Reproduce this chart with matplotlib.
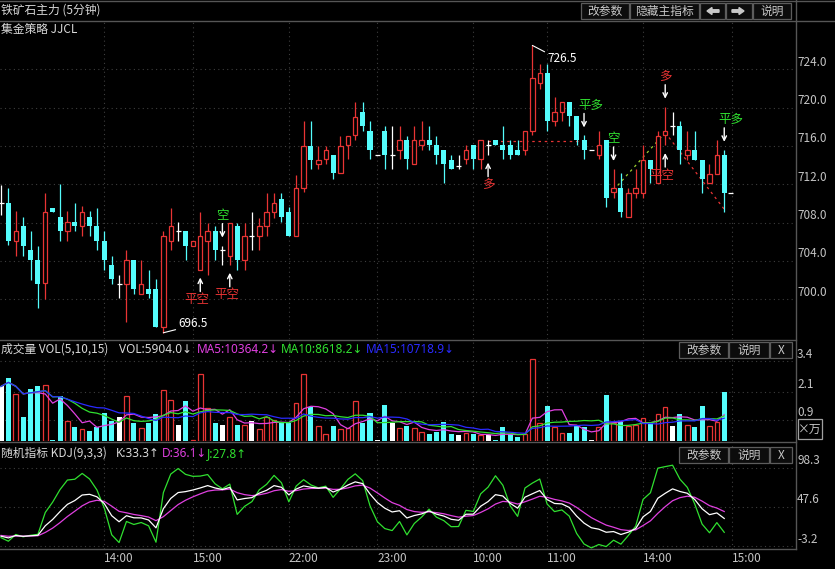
import numpy as np
import pandas as pd
import matplotlib
matplotlib.use("Agg")
import matplotlib.pyplot as plt
from matplotlib.patches import Rectangle, FancyArrow
from matplotlib.transforms import offset_copy

plt.rcParams['font.family'] = ['Noto Sans CJK SC', 'DejaVu Sans']
LATIN = ['Noto Sans', 'DejaVu Sans']

# ---- 5 minute bars ----
opens = [710.0, 710.1, 706.1, 707.6, 705.1, 704.1, 701.7, 709.5, 708.6, 707.1,
         708.1, 707.6, 708.6, 707.6, 706.1, 703.6, 701.6, 701.6, 704.1, 700.6,
         701.1, 701.1, 697.1, 706.1, 707.1, 707.1, 705.6, 703.1, 706.1, 707.1,
         705.1, 704.5, 707.6, 704.1, 706.6, 706.6, 707.6, 709.1, 710.5, 709.1,
         706.6, 711.6, 716.0, 714.1, 714.6, 715.1, 713.2, 716.1, 717.1, 719.6,
         717.6, 715.1, 717.6, 715.1, 715.6, 716.6, 714.1, 716.1, 716.6, 716.1,
         715.6, 714.5, 713.9, 714.6, 716.1, 714.6, 716.1, 716.6, 716.1, 716.1,
         715.6, 715.6, 717.6, 722.6, 723.6, 718.6, 719.6, 720.6, 719.1, 716.6,
         715.6, 715.1, 716.6, 711.2, 711.6, 708.6, 711.1, 711.1, 714.5, 712.1,
         717.1, 718.1, 718.1, 715.1, 715.6, 714.5, 712.1, 713.1, 715.1]
highs = [711.9, 711.6, 709.2, 708.6, 707.1, 705.6, 711.1, 709.5, 712.0, 709.2,
         710.1, 709.7, 709.2, 709.5, 707.1, 704.5, 702.5, 705.1, 704.1, 704.1,
         703.1, 702.1, 707.1, 709.5, 708.1, 707.1, 706.1, 709.1, 708.0, 707.6,
         705.6, 708.0, 708.0, 708.0, 709.1, 708.5, 711.1, 711.1, 711.1, 709.6,
         713.0, 718.6, 718.6, 716.0, 716.0, 715.1, 717.0, 717.0, 720.6, 720.6,
         718.6, 715.1, 718.1, 718.1, 718.1, 717.0, 718.1, 718.6, 718.1, 717.0,
         715.6, 715.1, 715.1, 716.1, 716.1, 716.6, 716.6, 716.6, 718.1, 716.6,
         716.6, 717.6, 726.5, 724.6, 724.6, 721.1, 720.6, 720.6, 719.1, 717.1,
         715.6, 717.6, 716.6, 713.6, 713.2, 711.6, 713.6, 716.1, 714.5, 717.6,
         720.1, 719.6, 718.6, 717.6, 717.6, 714.5, 714.1, 716.6, 715.6]
lows = [708.8, 705.7, 704.5, 704.5, 702.0, 699.1, 700.0, 709.1, 706.1, 706.1,
        707.1, 706.6, 706.6, 705.1, 703.1, 701.6, 700.1, 697.6, 700.6, 700.6,
        700.1, 697.1, 696.5, 705.1, 706.1, 704.1, 705.6, 703.1, 702.5, 704.1,
        703.6, 703.6, 703.1, 703.1, 705.1, 705.1, 706.6, 708.5, 708.1, 706.6,
        706.6, 711.2, 713.6, 713.6, 714.1, 712.6, 713.2, 714.6, 716.6, 717.6,
        714.6, 715.1, 713.6, 713.6, 714.6, 713.6, 714.1, 715.6, 715.6, 714.1,
        712.1, 713.6, 713.6, 714.1, 713.6, 713.6, 715.1, 716.1, 714.6, 714.6,
        715.1, 715.1, 717.1, 722.0, 717.6, 718.1, 718.6, 718.1, 716.1, 714.6,
        715.6, 714.6, 709.6, 710.6, 708.6, 708.6, 710.6, 710.6, 712.1, 712.1,
        716.1, 717.1, 714.1, 714.5, 714.5, 711.1, 712.1, 713.1, 709.1]
closes = [710.0, 706.1, 707.1, 705.6, 704.1, 701.6, 709.1, 709.1, 707.1, 708.1,
          707.6, 709.1, 707.6, 706.1, 704.1, 702.1, 701.6, 704.1, 701.1, 701.6,
          700.6, 697.1, 706.6, 707.6, 707.1, 705.6, 706.1, 706.6, 707.1, 705.1,
          705.1, 708.0, 704.1, 706.6, 706.6, 707.6, 709.1, 710.1, 708.6, 706.6,
          711.6, 716.0, 714.5, 714.5, 715.6, 713.2, 716.0, 717.0, 719.0, 718.1,
          715.6, 715.1, 715.1, 715.1, 716.6, 714.6, 716.6, 716.6, 716.1, 715.1,
          714.1, 713.6, 713.9, 715.6, 714.6, 716.6, 716.1, 716.1, 715.6, 715.1,
          715.1, 717.6, 723.1, 723.6, 718.6, 719.6, 720.6, 719.1, 716.6, 715.6,
          715.6, 716.1, 710.6, 711.6, 709.1, 711.1, 711.6, 714.5, 713.6, 717.0,
          717.6, 718.1, 715.6, 715.6, 714.5, 712.6, 713.1, 715.1, 711.1]
# volume in units of 10k (x万)
volumes = [2.32, 2.67, 2.00, 1.04, 2.22, 2.35, 2.39, 0.05, 1.93, 0.83,
           0.58, 0.49, 0.42, 0.58, 1.21, 0.83, 1.04, 1.90, 0.75, 0.56,
           0.75, 1.17, 2.15, 1.74, 0.68, 1.72, 0.05, 2.83, 1.39, 0.75,
           0.69, 1.00, 0.69, 0.69, 0.83, 0.49, 1.04, 0.90, 0.75, 0.75,
           1.62, 2.83, 1.44, 0.65, 0.28, 0.62, 0.49, 0.56, 1.72, 0.75,
           1.21, 0.05, 1.53, 0.75, 0.56, 0.62, 0.56, 0.40, 0.28, 0.38,
           0.79, 0.28, 0.26, 0.33, 0.28, 0.26, 0.26, 0.05, 0.58, 0.28,
           0.19, 0.31, 3.50, 0.75, 1.49, 0.58, 0.33, 0.33, 0.65, 0.58,
           0.05, 0.58, 1.94, 0.75, 0.79, 0.65, 0.69, 0.96, 0.79, 1.17,
           1.44, 0.62, 1.14, 0.69, 0.58, 1.49, 0.65, 0.81, 2.08]

time_ticks = [14, 26, 39, 51, 64, 74, 87, 99]
time_labels = ['14:00', '15:00', '22:00', '23:00', '10:00', '11:00', '14:00', '15:00']
price_ticks = [724, 720, 716, 712, 708, 704, 700]
vol_ticks = [3.4, 2.1, 0.9]
kdj_ticks = [98.3, 47.6, -3.2]
kdj_seed = [9.0, 11.0]          # K, D before the first bar
kdj_prior_range = [709.0, 720.0]  # low / high of the bars before the chart

# strategy signals
signal_idx = [27, 30, 31, 66, 79, 83, 90, 90, 98]
signal_text = ['平空', '空', '平空', '多', '平多', '空', '多', '平空', '平多']
signal_side = ['below', 'above', 'below', 'below', 'above', 'above', 'above', 'below', 'above']

# position lines (start bar, start price, end bar, end price)
trade_x0 = [66, 83, 90]
trade_y0 = [716.5, 711.4, 717.4]
trade_x1 = [78.5, 90, 98]
trade_y1 = [716.5, 717.4, 709.4]
trade_dir = ['long', 'short', 'long']

RED = '#e83434'
CYAN = '#54fcfc'
GRID = '#3e3e3e'
LINE = '#565656'
TXT = '#d8d8d8'
MAGENTA = '#e040e0'
GREEN = '#30e030'
BLUE = '#2a2aff'

W, H = 835, 569
fig = plt.figure(figsize=(W / 100, H / 100), dpi=100, facecolor='black')


def fax(x0, y0, x1, y1):
    a = fig.add_axes([x0 / W, 1 - y1 / H, (x1 - x0) / W, (y1 - y0) / H])
    a.set_facecolor('black')
    a.set_xticks([])
    a.set_yticks([])
    for s in a.spines.values():
        s.set_visible(False)
    a.set_xlim(-1 / 7.38, 794 / 7.38)
    return a


ax_p = fax(0, 21, 795, 339)
ax_v = fax(0, 341, 795, 441)
ax_k = fax(0, 442, 795, 549)
ax_p.set_ylim(695.85, 729.05)
ax_v.set_ylim(0, 4.255)
ax_k.set_ylim(-7.1, 132.1)

o = np.array(opens); h = np.array(highs); l = np.array(lows); c = np.array(closes)
v = np.array(volumes)
n = len(c)
x = np.arange(n)
up = c > o
dn = c < o
flat = c == o
col = np.where(up, RED, np.where(dn, CYAN, 'white'))

gkw = dict(color=GRID, lw=0.8, ls=(0, (1, 3)), zorder=0)
for a in (ax_p, ax_v, ax_k):
    for t in time_ticks:
        a.axvline(t, **gkw)
for p in price_ticks:
    ax_p.axhline(p, **gkw)
for p in vol_ticks:
    ax_v.axhline(p, **gkw)
for p in kdj_ticks:
    ax_k.axhline(p, **gkw)

# ---- candles ----
ax_p.vlines(x, l, h, colors=col, lw=0.9, zorder=2)
ax_p.bar(x[up], (c - o)[up], bottom=o[up], width=0.6, facecolor='black',
         edgecolor=RED, lw=0.9, zorder=3)
ax_p.bar(x[dn], (c - o)[dn], bottom=o[dn], width=0.68, color=CYAN, zorder=3)
ax_p.hlines(o[flat], x[flat] - 0.34, x[flat] + 0.34, colors='white', lw=0.9, zorder=3)
# last price tick
ax_p.hlines(c[-1], n - 0.5, n + 0.2, colors='white', lw=0.9)

# position lines
for x0, y0, x1, y1, d in zip(trade_x0, trade_y0, trade_x1, trade_y1, trade_dir):
    ax_p.plot([x0, x1], [y0, y1], color=RED if d == 'long' else '#9ccf30',
              lw=0.9, ls=(0, (2, 3)), zorder=1)

# signals
xshift = {'平空': -3, '平多': 7}
for i, txt, side in zip(signal_idx, signal_text, signal_side):
    s = 1 if side == 'above' else -1
    base = h[i] if side == 'above' else l[i]
    tr = offset_copy(ax_p.transData, fig=fig, x=0, y=s * 8, units='dots')
    ax_p.annotate('', xy=(i, base), xycoords=tr, xytext=(0, s * 14),
                  textcoords='offset pixels',
                  arrowprops=dict(arrowstyle='->', color='white', lw=1,
                                  shrinkA=0, shrinkB=0, mutation_scale=8))
    tcol = RED if txt in ('多', '平空') else GREEN
    ax_p.annotate(txt, xy=(i, base), xytext=(xshift.get(txt, 0), s * 30),
                  textcoords='offset pixels', ha='center', va='center',
                  color=tcol, fontsize=9)

# extreme values
imax = int(np.argmax(h))
ax_p.annotate(f'{h[imax]:.1f}', xy=(imax, h[imax]), xytext=(15, -13),
              textcoords='offset pixels', ha='left', va='center', color='white',
              fontsize=8.5,
              arrowprops=dict(arrowstyle='-', color='white', lw=0.8,
                              shrinkA=0, shrinkB=0, relpos=(0, 0.9)))
imin = int(np.argmin(l))
ax_p.annotate(f'{l[imin]:.1f}', xy=(imin, l[imin]), xytext=(15, 9),
              textcoords='offset pixels', ha='left', va='center', color='white',
              fontsize=8.5,
              arrowprops=dict(arrowstyle='-', color='white', lw=0.8,
                              shrinkA=0, shrinkB=0, relpos=(0, 0.1)))

# ---- volume ----
ax_v.bar(x[up], v[up], width=0.62, facecolor='black', edgecolor=RED, lw=0.9, zorder=2)
ax_v.bar(x[dn], v[dn], width=0.68, color=CYAN, zorder=2)
ax_v.bar(x[flat], v[flat], width=0.68, color='white', zorder=2)
vs = pd.Series(v)
for win, cc in ((5, MAGENTA), (10, GREEN), (15, BLUE)):
    ax_v.plot(x, vs.rolling(win, min_periods=1).mean(), color=cc, lw=0.9, zorder=3)

# ---- KDJ(9,3,3) ----
kk = np.zeros(n)
dd = np.zeros(n)
kp, dp = kdj_seed
for t in range(n):
    lo = l[max(0, t - 8):t + 1].min()
    hi = h[max(0, t - 8):t + 1].max()
    if t < 8:  # window reaches back before the first bar
        lo = min(lo, kdj_prior_range[0])
        hi = max(hi, kdj_prior_range[1])
    rsv = (c[t] - lo) / (hi - lo) * 100 if hi > lo else 50
    kp = (2 * kp + rsv) / 3
    dp = (2 * dp + kp) / 3
    kk[t], dd[t] = kp, dp
jj = 3 * kk - 2 * dd
ax_k.plot(x, jj, color=GREEN, lw=0.9)
ax_k.plot(x, dd, color=MAGENTA, lw=0.9)
ax_k.plot(x, kk, color='white', lw=0.9)


# right axis labels
def rlabels(a, ticks, fmt):
    for t in ticks:
        a.annotate(fmt.format(t), xy=(1, t), xycoords=a.get_yaxis_transform(),
                   xytext=(2, 7), textcoords='offset pixels', ha='left',
                   va='center', color='#c4c4c4', fontsize=8.5, annotation_clip=False)


rlabels(ax_p, price_ticks, '{:.1f}')
rlabels(ax_v, vol_ticks, '{:.1f}')
rlabels(ax_k, kdj_ticks, '{:.1f}')

for t, lab in zip(time_ticks, time_labels):
    ax_k.annotate(lab, xy=(t, 0), xycoords=ax_k.get_xaxis_transform(),
                  xytext=(0, -10), textcoords='offset pixels', ha='left',
                  va='center', color='#c4c4c4', fontsize=8.5, annotation_clip=False)

# ---- frame, headers, buttons ----
ov = fig.add_axes([0, 0, 1, 1])
ov.set_xlim(0, W)
ov.set_ylim(H, 0)
ov.axis('off')
ov.patch.set_alpha(0)

lk = dict(color=LINE, lw=1)
ov.plot([0, W], [0.5, 0.5], **lk)
ov.plot([0, W], [20.7, 20.7], **lk)
ov.plot([0, 795.5], [339.5, 339.5], **lk)
ov.plot([0, 795.5], [441.5, 441.5], **lk)
ov.plot([0, 795.5], [549, 549], **lk)
ov.plot([795.5, 795.5], [0, 549], **lk)

ov.text(1, 10.5, '铁矿石主力 (5分钟)', color=TXT, fontsize=8.5, va='center')
ov.text(1, 29.5, '集金策略 JJCL', color=TXT, fontsize=8.5, va='center')

hy = 349.5
ov.text(1, hy, '成交量 VOL(5,10,15)', color=TXT, fontsize=8.5, va='center')
ov.text(119, hy, 'VOL:5904.0↓', color=TXT, fontsize=8.5, va='center', family=LATIN)
ov.text(197, hy, 'MA5:10364.2↓', color=MAGENTA, fontsize=8.5, va='center', family=LATIN)
ov.text(281, hy, 'MA10:8618.2↓', color=GREEN, fontsize=8.5, va='center', family=LATIN)
ov.text(366, hy, 'MA15:10718.9↓', color=BLUE, fontsize=8.5, va='center', family=LATIN)

ky = 453.5
ov.text(1, ky, '随机指标 KDJ(9,3,3)', color=TXT, fontsize=8.5, va='center')
ov.text(116, ky, 'K:33.3↑', color=TXT, fontsize=8.5, va='center', family=LATIN)
ov.text(162, ky, 'D:36.1↓', color=MAGENTA, fontsize=8.5, va='center', family=LATIN)
ov.text(207, ky, 'J:27.8↑', color=GREEN, fontsize=8.5, va='center', family=LATIN)


def button(x0, y0, x1, y1, label=''):
    ov.add_patch(Rectangle((x0, y0), x1 - x0, y1 - y0, fc='#0c0c0c',
                           ec='#5c5c5c', lw=0.9))
    if label:
        ov.text((x0 + x1) / 2, (y0 + y1) / 2 + 0.5, label, ha='center',
                va='center', color='#c8c8c8', fontsize=8.5)


button(581, 3, 629, 19, '改参数')
button(630, 3, 699, 19, '隐藏主指标')
button(700, 3, 725, 19)
button(726, 3, 752, 19)
button(753, 3, 791, 19, '说明')
ov.add_patch(FancyArrow(719, 11, -12, 0, width=2.5, head_width=7, head_length=5,
                        length_includes_head=True, color='#c8c8c8'))
ov.add_patch(FancyArrow(732, 11, 12, 0, width=2.5, head_width=7, head_length=5,
                        length_includes_head=True, color='#c8c8c8'))
for y0 in (342, 447):
    button(679, y0, 728, y0 + 16, '改参数')
    button(729, y0, 769, y0 + 16, '说明')
    button(770, y0, 792, y0 + 16, 'X')
ov.add_patch(Rectangle((798, 419), 24, 20, fc='none', ec='#a0a0a0', lw=0.9))
ov.text(810, 429.5, '×万', ha='center', va='center', color='#c8c8c8', fontsize=8.5)

fig.savefig('out.png', dpi=100, facecolor='black')
